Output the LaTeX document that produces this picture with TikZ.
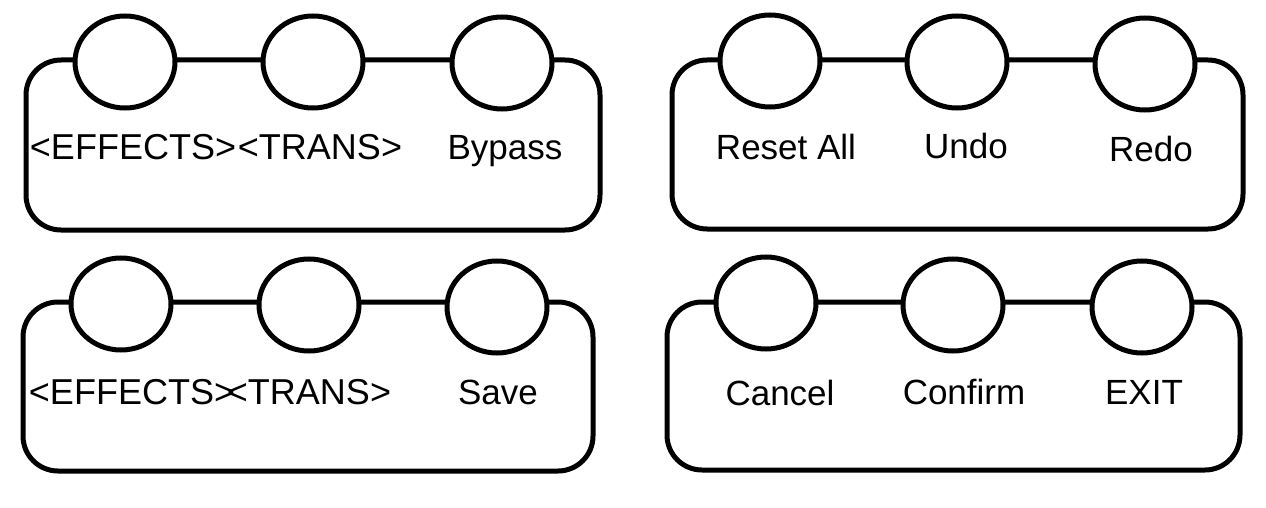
\documentclass[tikz,border=0pt]{standalone}
\usepackage{fontspec}
\setmainfont{Liberation Sans}
\usetikzlibrary{shapes.geometric}
\begin{document}
\begin{tikzpicture}[x=1pt,y=-1pt,
  panel/.style={draw=black, line width=5pt, rounded corners=35pt, inner sep=0pt},
  knob/.style={ellipse, draw=black, fill=white, line width=5pt, minimum width=100pt, minimum height=92pt, inner sep=0pt},
  lbl/.style={anchor=base, font=\fontsize{35}{40}\selectfont, inner sep=0pt},
  wlbl/.style={anchor=base, font=\fontsize{36}{40}\selectfont, inner sep=0pt}]
\useasboundingbox (0,0) rectangle (1266,508);
% top-left panel
\node[panel, minimum width=574pt, minimum height=170pt] (pTL) at (313,145) {};
\node[knob] (tl1) at (125,62) {};
\node[knob] (tl2) at (313,62) {};
\node[knob] (tl3) at (502,63) {};
\node[wlbl] (tlt1) at (133,159) {<EFFECTS>};
\node[wlbl] (tlt2) at (320,159) {<TRANS>};
\node[lbl] (tlt3) at (505,159) {Bypass};
% top-right panel
\node[panel, minimum width=571pt, minimum height=169pt] (pTR) at (957.5,144.5) {};
\node[knob] (tr1) at (770,61) {};
\node[knob] (tr2) at (957,62) {};
\node[knob] (tr3) at (1145,64) {};
\node[lbl] (trt1) at (786,159) {Reset All};
\node[lbl] (trt2) at (966,158) {Undo};
\node[lbl] (trt3) at (1151,161) {Redo};
% bottom-left panel
\node[panel, minimum width=570pt, minimum height=169pt] (pBL) at (308,386.5) {};
\node[knob] (bl1) at (121,304) {};
\node[knob] (bl2) at (309,305) {};
\node[knob] (bl3) at (497,307) {};
\node[wlbl] (blt1) at (132,404) {<EFFECTS>};
\node[wlbl] (blt2) at (309,404) {<TRANS>};
\node[lbl] (blt3) at (498,404) {Save};
% bottom-right panel
\node[panel, minimum width=573pt, minimum height=168pt] (pBR) at (953.5,386) {};
\node[knob] (br1) at (766,303) {};
\node[knob] (br2) at (953,305) {};
\node[knob] (br3) at (1142,307) {};
\node[lbl] (brt1) at (780,405) {Cancel};
\node[lbl] (brt2) at (964,404) {Confirm};
\node[lbl] (brt3) at (1144,404) {EXIT};
\end{tikzpicture}
\end{document}
